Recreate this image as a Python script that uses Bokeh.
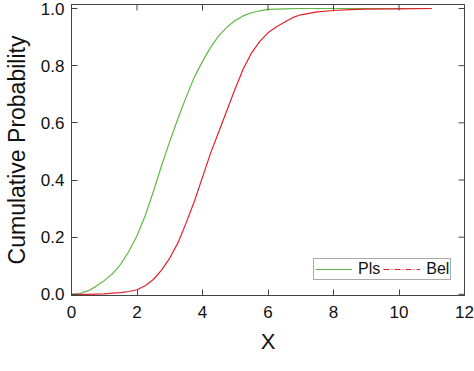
import math
from bokeh.plotting import figure
from bokeh.models import (LinearAxis, SingleIntervalTicker, PrintfTickFormatter,
                          Legend, LegendItem, Range1d)
from bokeh.embed import file_html
from bokeh.resources import INLINE

# ---- data ----
x_pls = [0, 0.25, 0.5, 0.75, 1.0, 1.25, 1.5, 1.75, 2.0, 2.25, 2.5, 2.75, 3.0,
         3.25, 3.5, 3.75, 4.0, 4.25, 4.5, 4.75, 5.0, 5.25, 5.5, 5.75, 6.0,
         6.5, 7.0, 8.0, 9.0, 10.0, 11.0]
y_pls = [0, 0.003, 0.012, 0.028, 0.048, 0.072, 0.105, 0.15, 0.205, 0.275,
         0.36, 0.45, 0.535, 0.615, 0.69, 0.76, 0.815, 0.865, 0.905, 0.935,
         0.958, 0.975, 0.985, 0.992, 0.997, 0.999, 1.0, 1.0, 1.0, 1.0, 1.0]

x_bel = [0, 0.5, 0.75, 1.0, 1.25, 1.5, 1.75, 2.0, 2.25, 2.5, 2.75, 3.0, 3.25,
         3.5, 3.75, 4.0, 4.25, 4.5, 4.75, 5.0, 5.25, 5.5, 5.75, 6.0, 6.25,
         6.5, 6.75, 7.0, 7.5, 8.0, 8.5, 9.0, 10.0, 11.0]
y_bel = [0, 0, 0.001, 0.002, 0.004, 0.006, 0.01, 0.016, 0.03, 0.052, 0.085,
         0.127, 0.18, 0.25, 0.325, 0.41, 0.495, 0.57, 0.645, 0.72, 0.79,
         0.845, 0.885, 0.915, 0.935, 0.952, 0.968, 0.978, 0.988, 0.993,
         0.996, 0.998, 0.999, 1.0]

x_ticks = [0, 2, 4, 6, 8, 10, 12]
y_ticks = [0.0, 0.2, 0.4, 0.6, 0.8, 1.0]

series_names = ["Pls", "Bel"]
x_label = "X"
y_label = "Cumulative Probability"

X_START, X_END = 0, 12
Y_START, Y_END = -0.004, 1.014

GREEN = "#62b846"
RED = "#e3202c"
AX = "#444444"
FONT = "Liberation Sans"

p = figure(width=474, height=371, x_range=Range1d(X_START, X_END),
           y_range=Range1d(Y_START, Y_END), output_backend="svg",
           toolbar_location=None, min_border_left=70, min_border_right=10,
           min_border_top=4, min_border_bottom=76, x_axis_location=None,
           y_axis_location=None)
p.grid.visible = False
p.outline_line_color = AX
p.background_fill_color = "white"
p.border_fill_color = "white"

g = p.line(x_pls, y_pls, color=GREEN, line_width=1.2)
r = p.line(x_bel, y_bel, color=RED, line_width=1.2)
# legend proxy for the dash-dot key of "Bel" (a single point draws no line)
r_leg = p.line([x_bel[-1]], [y_bel[-1]], color=RED, line_width=1.2,
               line_dash="6 2 1 2")

# inward tick marks on the top and right frame edges (half of each dash is
# clipped away by the frame)
p.scatter(x_ticks, [Y_END] * len(x_ticks), marker="dash", size=12,
          angle=math.pi / 2, line_color=AX, line_width=1)
p.scatter([X_END] * len(y_ticks), y_ticks, marker="dash", size=12,
          line_color=AX, line_width=1)


def style(ax):
    ax.axis_line_color = AX
    ax.major_tick_line_color = AX
    ax.minor_tick_line_color = None
    ax.major_tick_in = 6
    ax.major_tick_out = 0
    ax.major_label_text_font = FONT
    ax.major_label_text_color = "#111111"
    ax.major_label_text_font_size = "17px"
    ax.axis_label_text_font = FONT
    ax.axis_label_text_font_style = "normal"
    ax.axis_label_text_color = "#111111"


xb = LinearAxis(ticker=SingleIntervalTicker(interval=2, num_minor_ticks=0))
style(xb)
xb.axis_label = x_label
xb.axis_label_text_font_size = "22px"
xb.major_label_standoff = 10
xb.axis_label_standoff = 8
p.add_layout(xb, "below")

yl = LinearAxis(ticker=SingleIntervalTicker(interval=0.2, num_minor_ticks=0),
                formatter=PrintfTickFormatter(format="%.1f"))
style(yl)
yl.axis_label = y_label
yl.axis_label_text_font_size = "23px"
yl.major_label_standoff = 7
yl.axis_label_standoff = 8
p.add_layout(yl, "left")

legend = Legend(items=[LegendItem(label=series_names[0], renderers=[g]),
                       LegendItem(label=series_names[1], renderers=[r_leg])],
                orientation="horizontal", location=(242, 15),
                margin=0, padding=1, spacing=3, label_standoff=6,
                glyph_width=37, glyph_height=16, label_height=16,
                label_text_font=FONT, label_text_font_size="16px",
                label_text_color="#111111", border_line_color="#555555",
                background_fill_alpha=1.0)
p.add_layout(legend)

open("out.html", "w").write(file_html(p, INLINE))
